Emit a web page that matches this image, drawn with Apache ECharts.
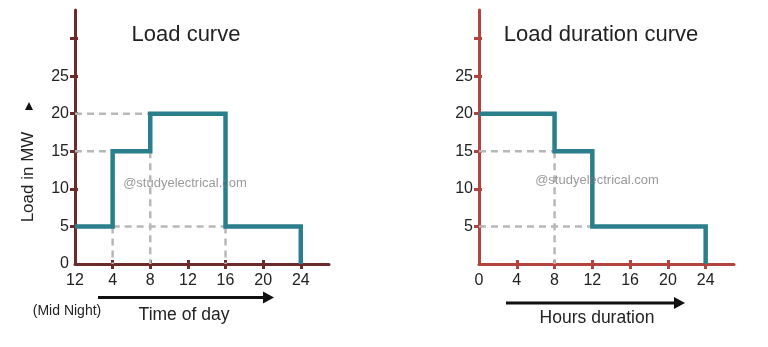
<!DOCTYPE html>
<html>
<head>
<meta charset="utf-8">
<script src="https://cdn.jsdelivr.net/npm/echarts@6/dist/echarts.min.js"></script>
<style>html,body{margin:0;padding:0;background:#fff}#c{width:768px;height:347px}</style>
</head>
<body>
<div id="c"></div>
<script>
// ---- data ----
var loadHours = [0, 4, 8, 16, 24];
var loadMW = [5, 15, 20, 5, 0];
var durHours = [0, 8, 12, 24];
var durMW = [20, 15, 5, 0];
var xTicks = [0, 4, 8, 12, 16, 20, 24];
var yTicks = [5, 10, 15, 20, 25, 30];
var leftYLabels = [0, 5, 10, 15, 20, 25];
var rightYLabels = [5, 10, 15, 20, 25];
var leftXLabelText = ['12', '4', '8', '12', '16', '20', '24'];
// dashed guide segments [[x1,y1],[x2,y2]]
var loadGuides = [
  [[0, 20], [8, 20]], [[0, 15], [4, 15]], [[4, 5], [16, 5]],
  [[4, 5], [4, 0]], [[8, 15], [8, 0]], [[16, 5], [16, 0]]
];
var durGuides = [
  [[0, 15], [8, 15]], [[8, 15], [8, 0]], [[0, 5], [12, 5]]
];

var teal = '#2b7f8d';
var axisL = '#6b2b2b';
var axisR = '#b2433f';
var guide = '#b8b8b8';
var font = 'Liberation Sans, Arial, sans-serif';

function pts(xs, ys) { return xs.map(function (x, i) { return [x, ys[i]]; }); }

function xAxes(grid, color, labels, fmt) {
  return [{
    type: 'value', gridIndex: grid, min: 0, max: 27, position: 'bottom',
    axisLine: { show: true, onZero: false, lineStyle: { color: color, width: 3 } },
    axisTick: { show: true, length: 5, customValues: xTicks.slice(1), lineStyle: { color: color, width: 3 } },
    axisLabel: { show: true, customValues: labels, formatter: fmt, fontSize: 16, color: '#222', fontFamily: font, margin: 9 },
    splitLine: { show: false }
  }, {
    type: 'value', gridIndex: grid, min: 0, max: 27, position: 'bottom',
    axisLine: { show: false },
    axisTick: { show: true, inside: true, length: 4, customValues: xTicks.slice(1), lineStyle: { color: color, width: 3 } },
    axisLabel: { show: false }, splitLine: { show: false }
  }];
}
function yAxes(grid, color, labels) {
  return [{
    type: 'value', gridIndex: grid, min: 0, max: 33.8, position: 'left',
    axisLine: { show: true, onZero: false, lineStyle: { color: color, width: 3 } },
    axisTick: { show: true, length: 5, customValues: yTicks, lineStyle: { color: color, width: 3 } },
    axisLabel: { show: true, customValues: labels, fontSize: 16, color: '#222', fontFamily: font, margin: 6 },
    splitLine: { show: false }
  }, {
    type: 'value', gridIndex: grid, min: 0, max: 33.8, position: 'left',
    axisLine: { show: false },
    axisTick: { show: true, inside: true, length: 3, customValues: yTicks, lineStyle: { color: color, width: 3 } },
    axisLabel: { show: false }, splitLine: { show: false }
  }];
}

function guideSeries(list, xi, yi) {
  return list.map(function (seg) {
    return {
      type: 'line', xAxisIndex: xi, yAxisIndex: yi, data: seg, symbol: 'none', silent: true, z: 1,
      lineStyle: { color: guide, width: 2.5, type: [7, 5] }
    };
  });
}

var series = [].concat(
  guideSeries(loadGuides, 0, 0),
  guideSeries(durGuides, 2, 2),
  [{
    type: 'line', xAxisIndex: 0, yAxisIndex: 0, step: 'end', data: pts(loadHours, loadMW),
    symbol: 'none', z: 3, lineStyle: { color: teal, width: 4.5, join: 'miter' }
  }, {
    type: 'line', xAxisIndex: 2, yAxisIndex: 2, step: 'end', data: pts(durHours, durMW),
    symbol: 'none', z: 3, lineStyle: { color: teal, width: 4.5, join: 'miter' }
  }]
);

var chart = echarts.init(document.getElementById('c'), null, { renderer: 'canvas' });
chart.setOption({
  animation: false,
  backgroundColor: '#fff',
  grid: [
    { left: 75, top: 10, width: 254, height: 254 },
    { left: 479, top: 10, width: 255, height: 254 }
  ],
  xAxis: [].concat(
    xAxes(0, axisL, xTicks, function (v) { return leftXLabelText[xTicks.indexOf(v)]; }),
    xAxes(1, axisR, xTicks, function (v) { return String(v); })
  ),
  yAxis: [].concat(
    yAxes(0, axisL, leftYLabels),
    yAxes(1, axisR, rightYLabels)
  ),
  series: series,
  graphic: [
    { type: 'text', x: 186, y: 35, style: { text: 'Load curve', fontSize: 22, fill: '#222', fontFamily: font, align: 'center', verticalAlign: 'middle' } },
    { type: 'text', x: 601, y: 35, style: { text: 'Load duration curve', fontSize: 22, fill: '#222', fontFamily: font, align: 'center', verticalAlign: 'middle' } },
    { type: 'text', x: 28, y: 177, rotation: Math.PI / 2, style: { text: 'Load in MW', fontSize: 17, fill: '#222', fontFamily: font, align: 'center', verticalAlign: 'middle' } },
    { type: 'polygon', shape: { points: [[25, 110], [33, 110], [29, 102]] }, style: { fill: '#111' } },
    { type: 'text', x: 185, y: 183, z: 5, style: { text: '@studyelectrical.com', fontSize: 13, fill: 'rgba(120,120,120,0.75)', fontFamily: font, align: 'center', verticalAlign: 'middle' } },
    { type: 'text', x: 597, y: 180, z: 5, style: { text: '@studyelectrical.com', fontSize: 13, fill: 'rgba(120,120,120,0.75)', fontFamily: font, align: 'center', verticalAlign: 'middle' } },
    { type: 'line', shape: { x1: 98, y1: 297.5, x2: 265, y2: 297.5 }, style: { stroke: '#111', lineWidth: 3 } },
    { type: 'polygon', shape: { points: [[263, 291.5], [274, 297.5], [263, 303.5]] }, style: { fill: '#111' } },
    { type: 'line', shape: { x1: 506, y1: 303, x2: 676, y2: 303 }, style: { stroke: '#111', lineWidth: 3 } },
    { type: 'polygon', shape: { points: [[674, 297], [685, 303], [674, 309]] }, style: { fill: '#111' } },
    { type: 'text', x: 67, y: 311, style: { text: '(Mid Night)', fontSize: 14, fill: '#222', fontFamily: font, align: 'center', verticalAlign: 'middle' } },
    { type: 'text', x: 184, y: 315, style: { text: 'Time of day', fontSize: 17.5, fill: '#222', fontFamily: font, align: 'center', verticalAlign: 'middle' } },
    { type: 'text', x: 597, y: 318, style: { text: 'Hours duration', fontSize: 17.5, fill: '#222', fontFamily: font, align: 'center', verticalAlign: 'middle' } }
  ]
});
</script>
</body>
</html>
